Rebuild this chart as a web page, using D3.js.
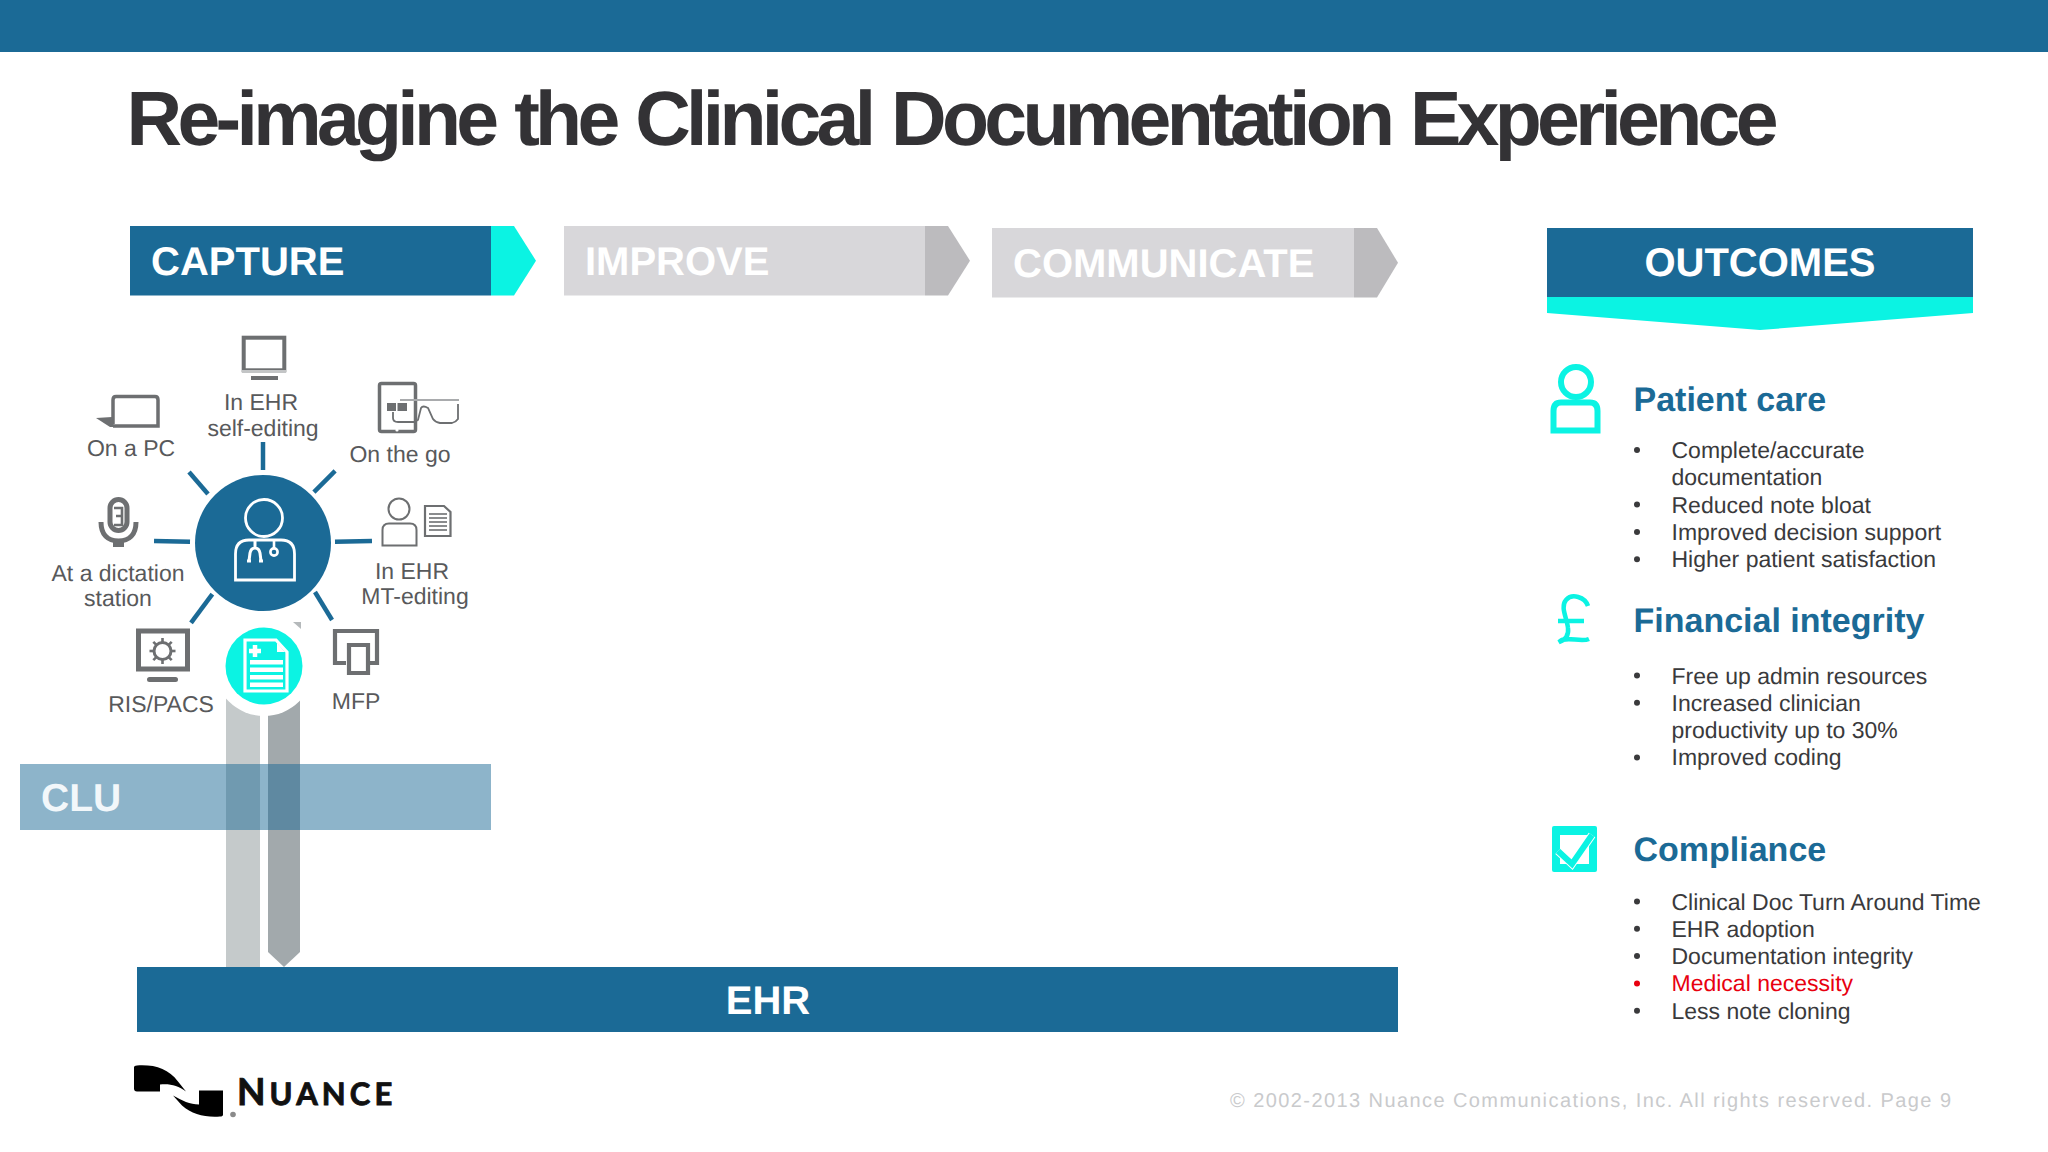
<!DOCTYPE html>
<html>
<head>
<meta charset="utf-8">
<title>Re-imagine the Clinical Documentation Experience</title>
<script src="https://cdnjs.cloudflare.com/ajax/libs/d3/7.8.5/d3.min.js"></script>
<style>
  html, body { margin: 0; padding: 0; background: #fff; }
  svg { display: block; }
  text { font-family: "Liberation Sans", Arial, sans-serif; text-rendering: geometricPrecision; }
</style>
</head>
<body>
<div id="chart"></div>
<script>
const titleText = "Re-imagine the Clinical Documentation Experience";
const stepNames = ["CAPTURE", "IMPROVE", "COMMUNICATE"];
const outcomesTitle = "OUTCOMES";
const sectionNames = ["Patient care", "Financial integrity", "Compliance"];
const patientCareItems = ["Complete/accurate|documentation", "Reduced note bloat", "Improved decision support", "Higher patient satisfaction"];
const financialItems = ["Free up admin resources", "Increased clinician|productivity up to 30%", "Improved coding"];
const complianceItems = ["Clinical Doc Turn Around Time", "EHR adoption", "Documentation integrity", "Medical necessity", "Less note cloning"];
const highlightedItem = "Medical necessity";
const captureLabels = ["On a PC", "In EHR|self-editing", "On the go", "In EHR|MT-editing", "MFP", "RIS/PACS", "At a dictation|station"];
const footerText = "\u00A9 2002-2013 Nuance Communications, Inc. All rights reserved. Page 9";

const blue = "#1b6a96", cyan = "#0bf3e3", iconGrey = "#6d6f71", labelGrey = "#58595b", bodyText = "#3a3a3c";

const svg = d3.select("#chart").append("svg").attr("width", 2048).attr("height", 1152);
svg.append("rect").attr("width", 2048).attr("height", 1152).attr("fill", "#fff");

const poly = (g, pts, fill) => g.append("polygon").attr("points", pts.map(p => p.join(",")).join(" ")).attr("fill", fill);
const path = (g, d, stroke, w, fill) => g.append("path").attr("d", d).attr("stroke", stroke || "none").attr("stroke-width", w || 0).attr("fill", fill || "none");
const label = (g, txt, x, y, size, fill, weight, anchor) => g.append("text").attr("x", x).attr("y", y)
  .attr("font-size", size).attr("fill", fill).attr("font-weight", weight || "normal").attr("text-anchor", anchor || "start").text(txt);

// fit a text to a measured width with letter spacing, like the squeezed slide title
function fitWidth(sel, width) {
  const w = sel.node().getComputedTextLength();
  const n = sel.text().length - 1;
  sel.attr("letter-spacing", ((width - w) / n).toFixed(3));
  return sel;
}

// top bar and title
svg.append("rect").attr("width", 2048).attr("height", 52).attr("fill", blue);
fitWidth(label(svg, titleText, 126.5, 145, 77, "#333235", "bold").attr("word-spacing", 3), 1652);

// step arrows
const stepY = { CAPTURE: 226, IMPROVE: 226, COMMUNICATE: 228 };
const stepW = { CAPTURE: 361, IMPROVE: 361, COMMUNICATE: 362 };
const stepTip = { CAPTURE: 22, IMPROVE: 22, COMMUNICATE: 21 };
const stepPos = { CAPTURE: 130, IMPROVE: 564, COMMUNICATE: 992 };
stepNames.forEach((name, i) => {
  const x = stepPos[name], y = stepY[name], w = stepW[name], h = 69.5, t = stepTip[name];
  const active = i === 0;
  svg.append("rect").attr("x", x).attr("y", y).attr("width", w).attr("height", h).attr("fill", active ? blue : "#d8d7da");
  poly(svg, [[x + w, y], [x + w + 23, y], [x + w + 23 + t, y + h / 2], [x + w + 23, y + h], [x + w, y + h]], active ? cyan : "#bcbbbe");
  label(svg, name, x + 21, y + 49, 40, "#fff", "bold");
});

// outcomes banner
poly(svg, [[1547, 297], [1973, 297], [1973, 313], [1760, 330], [1547, 313]], cyan);
svg.append("rect").attr("x", 1547).attr("y", 228).attr("width", 426).attr("height", 69).attr("fill", blue);
label(svg, outcomesTitle, 1760, 276, 40, "#fff", "bold", "middle");

// outcome sections
const sections = [
  { name: sectionNames[0], items: patientCareItems, headY: 411, itemY: 458 },
  { name: sectionNames[1], items: financialItems, headY: 632, itemY: 683.5 },
  { name: sectionNames[2], items: complianceItems, headY: 861, itemY: 909.5 }
];
const lineH = 27.3;
sections.forEach(s => {
  label(svg, s.name, 1633.5, s.headY, 34, blue, "bold");
  let y = s.itemY;
  s.items.forEach(item => {
    const col = item === highlightedItem ? "#e8000f" : bodyText;
    svg.append("circle").attr("cx", 1637).attr("cy", y - 8).attr("r", 3).attr("fill", col);
    item.split("|").forEach(line => {
      label(svg, line, 1671.5, y, 23, col);
      y += lineH;
    });
  });
});

// outcome icons
const person = svg.append("g");
person.append("circle").attr("cx", 1576).attr("cy", 382).attr("r", 15).attr("fill", "none").attr("stroke", cyan).attr("stroke-width", 6);
path(person, "M1553.5,430.5 V411 Q1553.5,402.5 1561,402.5 H1590 Q1597.5,402.5 1597.5,411 V430.5 Z", cyan, 6);
path(svg, "M1588,606 C1585,597 1572,593 1566,600 C1560,607 1567,618 1568,628 C1569,636 1565,640 1559,642 C1566,635 1580,643 1589,639 M1558,621 H1584", cyan, 4.5);
svg.append("rect").attr("x", 1552).attr("y", 826).attr("width", 45).attr("height", 46).attr("rx", 2).attr("fill", cyan);
svg.append("rect").attr("x", 1560).attr("y", 835).attr("width", 29).attr("height", 29).attr("fill", "#fff");
path(svg, "M1558,851 L1572,864 L1592,835", "#fff", 8);
path(svg, "M1558,851 L1572,864 L1592,835", cyan, 6);

// document bars running down to the EHR strip
svg.append("rect").attr("x", 226).attr("y", 695).attr("width", 34).attr("height", 272).attr("fill", "#c5cacb");
poly(svg, [[268, 695], [300, 695], [300, 952], [284, 967], [268, 952]], "#a2a9ac");
poly(svg, [[293, 622], [301, 622], [301, 629]], "#b5b9bb");
svg.append("circle").attr("cx", 264).attr("cy", 666).attr("r", 50).attr("fill", "#fff");

// CLU band
svg.append("rect").attr("x", 20).attr("y", 764).attr("width", 471).attr("height", 66).attr("fill", blue).attr("opacity", 0.5);
label(svg, "CLU", 41, 811, 39, "#f2f7fa", "bold");

// EHR strip
svg.append("rect").attr("x", 137).attr("y", 967).attr("width", 1261).attr("height", 65).attr("fill", blue);
label(svg, "EHR", 768, 1014, 40, "#fff", "bold", "middle");

// hub with spokes
const hub = { x: 263, y: 543 };
const spokeInnerAngle = [-90, -45, -1, 43.3, 134.7, 181, -138.3];
const spokeOuterAngle = [-90, -45, -1, 48.1, 132, 181, -136.2];
const spokeInner = [73, 72, 72, 71.4, 72, 73, 73.7];
const spokeOuter = [101, 102, 109, 103.4, 107.6, 109, 102.5];
const rad = d => d * Math.PI / 180;
svg.selectAll("line.spoke").data(spokeInner).enter().append("line").attr("class", "spoke")
  .attr("x1", (d, i) => hub.x + d * Math.cos(rad(spokeInnerAngle[i])))
  .attr("y1", (d, i) => hub.y + d * Math.sin(rad(spokeInnerAngle[i])))
  .attr("x2", (d, i) => hub.x + spokeOuter[i] * Math.cos(rad(spokeOuterAngle[i])))
  .attr("y2", (d, i) => hub.y + spokeOuter[i] * Math.sin(rad(spokeOuterAngle[i])))
  .attr("stroke", blue).attr("stroke-width", 4.5);
svg.append("circle").attr("cx", hub.x).attr("cy", hub.y).attr("r", 68).attr("fill", blue);

// doctor icon
const doc = svg.append("g");
doc.append("circle").attr("cx", 264).attr("cy", 518).attr("r", 18.5).attr("fill", "none").attr("stroke", "#fff").attr("stroke-width", 2.8);
path(doc, "M235.5,580 V554 Q235.5,540 249,540 H281 Q294.5,540 294.5,554 V580 Z", "#fff", 2.8);
path(doc, "M249,561 L250,553 Q251,548 255,548 Q259,548 260,553 L261,561 M247,561 H251 M259,561 H263 M255,540 V548", "#fff", 3);
path(doc, "M274,540 V548", "#fff", 2.6);
doc.append("circle").attr("cx", 274).attr("cy", 552).attr("r", 3.6).attr("fill", "none").attr("stroke", "#fff").attr("stroke-width", 2.6);

// capture labels
const labelPos = [[131, 456], [261, 410], [400, 462], [412, 579], [356, 708.5], [161, 712], [118, 581]];
captureLabels.forEach((txt, i) => {
  txt.split("|").forEach((line, j) => {
    label(svg, line, labelPos[i][0] + (j && i === 3 ? 3 : 0) + (j && i === 1 ? 2 : 0), labelPos[i][1] + j * (i === 1 ? 25.5 : 24.5), 23, labelGrey, "normal", "middle");
  });
});

// capture icons, drawn in place
const icons = svg.append("g");
// monitor
icons.append("rect").attr("x", 243.7).attr("y", 337.7).attr("width", 40.6).attr("height", 32.6).attr("fill", "none").attr("stroke", iconGrey).attr("stroke-width", 4);
icons.append("rect").attr("x", 242).attr("y", 370).attr("width", 44).attr("height", 3).attr("fill", "#c3c5c6");
icons.append("rect").attr("x", 251).attr("y", 376).attr("width", 27).attr("height", 4).attr("fill", iconGrey);
// laptop
path(icons, "M113,424 V400 Q113,396.5 116,396.5 H155 Q158,396.5 158,400 V426 H113", iconGrey, 3.5);
path(icons, "M112,417 L96,418 L110,427 H114 Z", null, 0, iconGrey);
// tablet and glasses
icons.append("rect").attr("x", 379.5).attr("y", 383.5).attr("width", 36).attr("height", 48).attr("rx", 2).attr("fill", "#fff").attr("stroke", iconGrey).attr("stroke-width", 3.5);
icons.append("circle").attr("cx", 397).attr("cy", 430).attr("r", 1.6).attr("fill", "#fff");
path(icons, "M400,400 H459", "#a9abad", 1.8);
icons.append("rect").attr("x", 387).attr("y", 403).attr("width", 20).attr("height", 8).attr("fill", iconGrey);
icons.append("rect").attr("x", 396).attr("y", 403).attr("width", 1.5).attr("height", 8).attr("fill", "#fff");
path(icons, "M393,412 V418 Q393,422 398,422 H414 L418,420 L421,408 Q423,405 428,408 L433,419 Q435,422 440,423 H452 Q456,422 458,419 V404", iconGrey, 1.8);
// microphone
const mic = icons.append("g");
mic.append("rect").attr("x", 110).attr("y", 499.5).attr("width", 17).attr("height", 31).attr("rx", 8.5).attr("fill", "#fff").attr("stroke", iconGrey).attr("stroke-width", 5);
path(mic, "M114,508 H122 V525 H114 M116,516 H122", iconGrey, 2.6);
path(mic, "M101,522 C101,535 108,541 118.5,541 C129,541 136,535 136,522", iconGrey, 5);
mic.append("rect").attr("x", 113).attr("y", 540).attr("width", 11).attr("height", 7).attr("fill", iconGrey);
// person and document
icons.append("circle").attr("cx", 399).attr("cy", 509).attr("r", 10.5).attr("fill", "none").attr("stroke", iconGrey).attr("stroke-width", 2);
path(icons, "M382.5,545.5 V530 Q382.5,523.5 389,523.5 H410 Q416.5,523.5 416.5,530 V545.5 Z", iconGrey, 2);
path(icons, "M425,506 H444 L450.5,512 V536 H425 Z", iconGrey, 2.2);
icons.selectAll("line.docline").data(d3.range(514, 534, 4)).enter().append("line").attr("class", "docline")
  .attr("x1", 429).attr("x2", 447).attr("y1", d => d).attr("y2", d => d).attr("stroke", iconGrey).attr("stroke-width", 1.6);
// RIS/PACS monitor with gear
icons.append("rect").attr("x", 138.5).attr("y", 631).attr("width", 49).attr("height", 38).attr("fill", "none").attr("stroke", iconGrey).attr("stroke-width", 5);
icons.append("circle").attr("cx", 162.5).attr("cy", 651).attr("r", 8.5).attr("fill", "none").attr("stroke", iconGrey).attr("stroke-width", 3);
icons.selectAll("line.tooth").data(d3.range(0, 360, 45)).enter().append("line").attr("class", "tooth")
  .attr("x1", d => 162.5 + 9 * Math.cos(rad(d))).attr("y1", d => 651 + 9 * Math.sin(rad(d)))
  .attr("x2", d => 162.5 + 13 * Math.cos(rad(d))).attr("y2", d => 651 + 13 * Math.sin(rad(d)))
  .attr("stroke", iconGrey).attr("stroke-width", 2.6);
icons.append("rect").attr("x", 147).attr("y", 677).attr("width", 31).attr("height", 5).attr("rx", 2.5).attr("fill", iconGrey);
// MFP
path(icons, "M346,663 H335 V631 H377 V663 H369", iconGrey, 4.2);
path(icons, "M349,673 V645 H368 V673 Z", iconGrey, 4.2, "#fff");

// cyan document badge
svg.append("circle").attr("cx", 264).attr("cy", 666).attr("r", 38.5).attr("fill", cyan);
path(svg, "M245,640 H276 L287,652 V691 H245 Z", "#fff", 3.2, "none");
poly(svg, [[277, 643], [285, 652], [277, 652]], "#fff");
path(svg, "M255,645 V657 M249,651 H261", "#fff", 4.5);
svg.selectAll("rect.noteline").data(d3.range(660, 690, 7.5)).enter().append("rect").attr("class", "noteline")
  .attr("x", 250).attr("y", d => d).attr("width", 33).attr("height", 4.5).attr("fill", "#fff");

// logo
const logo = svg.append("g").attr("transform", "translate(0,8.5)");
path(logo, "M134,1059 Q134,1057 137,1057 C155,1056 168,1060 178,1073 L186,1083 C178,1077 170,1075 160,1076 V1083 H137 Q134,1083 134,1080 Z", null, 0, "#000");
path(logo, "M223,1082 V1106 Q223,1108 220,1108 C205,1109 192,1106 182,1097 L173,1087 C182,1092 190,1096 199,1096 V1082 Z", null, 0, "#000");
logo.append("circle").attr("cx", 233).attr("cy", 1106).attr("r", 2.8).attr("fill", "#8a8a8a");
const nuance = logo.append("text").attr("x", 237).attr("y", 1096.5).attr("font-weight", "bold").attr("fill", "#111")
  .attr("stroke", "#111").attr("stroke-width", 0.9)
  .style("font-family", "Lato, 'Liberation Sans', sans-serif").attr("letter-spacing", 4.1);
nuance.append("tspan").attr("font-size", 37).text("N");
nuance.append("tspan").attr("font-size", 31).text("UANCE");

// footer
fitWidth(label(svg, footerText, 1230, 1107, 20, "#c9cacc"), 721);
</script>
</body>
</html>
